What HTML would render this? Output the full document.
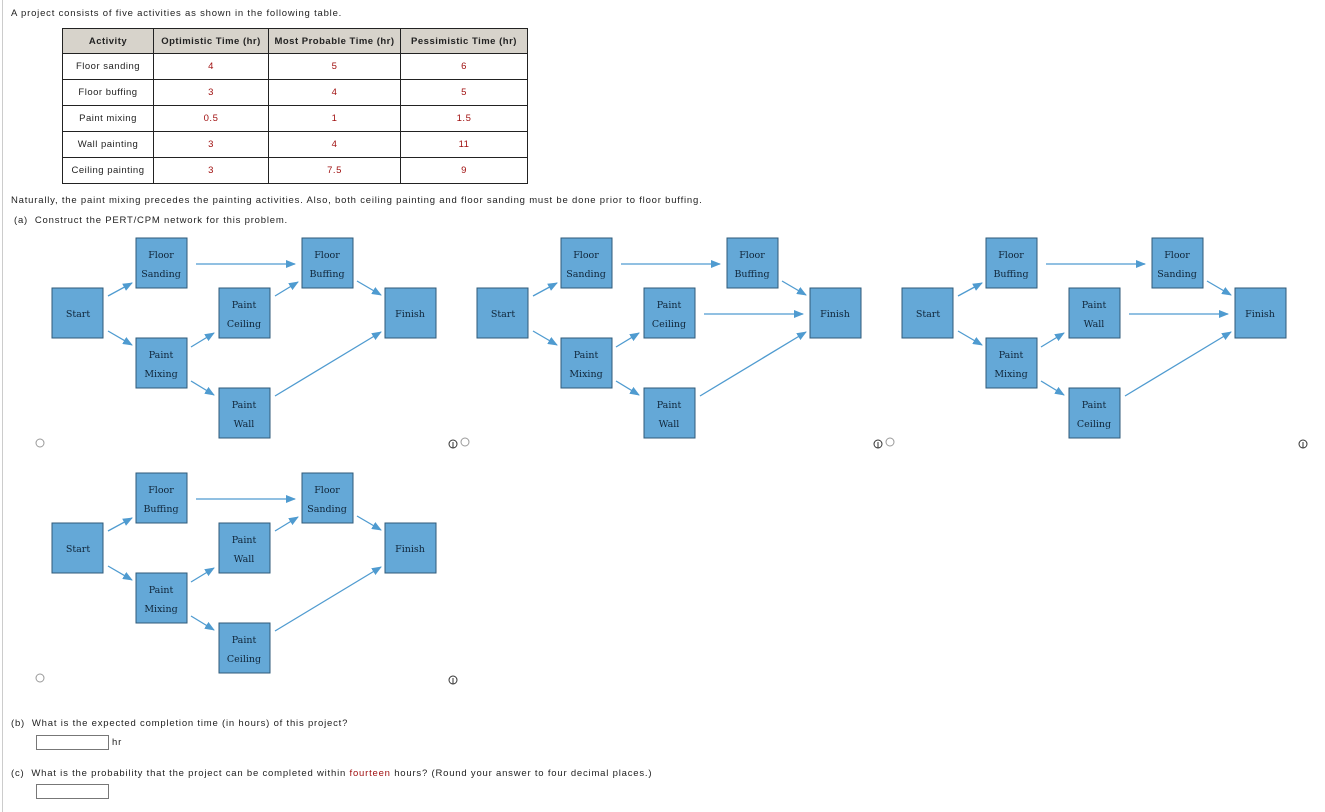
<!DOCTYPE html>
<html><head><meta charset="utf-8"><style>
body{margin:0;width:1325px;height:812px;background:#fff;position:relative;overflow:hidden;font-family:"Liberation Sans","DejaVu Sans",sans-serif;font-size:9.5px;color:#222;letter-spacing:.8px}
.t{position:absolute;white-space:nowrap}
table{position:absolute;left:62px;top:28px;border-collapse:collapse;letter-spacing:.5px}
td,th{border:1px solid #222;height:25px;padding:0;text-align:center;font-size:9.5px}
th{background:#d7d3cb;font-weight:bold;height:24px}
td.r{color:#a01010}
.in{position:absolute;width:71px;height:13px;border:1px solid #777;background:#fff}
svg{position:absolute;left:0;top:0;letter-spacing:0}
</style></head><body>
<div style="position:absolute;left:2px;top:0;width:1px;height:812px;background:#ccc"></div>
<div class="t" style="left:11px;top:8px">A project consists of five activities as shown in the following table.</div>
<table>
<tr><th style="width:90px">Activity</th><th style="width:114px">Optimistic Time (hr)</th><th style="width:131px">Most Probable Time (hr)</th><th style="width:126px">Pessimistic Time (hr)</th></tr>
<tr><td>Floor sanding</td><td class="r">4</td><td class="r">5</td><td class="r">6</td></tr>
<tr><td>Floor buffing</td><td class="r">3</td><td class="r">4</td><td class="r">5</td></tr>
<tr><td>Paint mixing</td><td class="r">0.5</td><td class="r">1</td><td class="r">1.5</td></tr>
<tr><td>Wall painting</td><td class="r">3</td><td class="r">4</td><td class="r">11</td></tr>
<tr><td>Ceiling painting</td><td class="r">3</td><td class="r">7.5</td><td class="r">9</td></tr>
</table>
<div class="t" style="left:11px;top:195px">Naturally, the paint mixing precedes the painting activities. Also, both ceiling painting and floor sanding must be done prior to floor buffing.</div>
<div class="t" style="left:14px;top:215px">(a)&nbsp; Construct the PERT/CPM network for this problem.</div>

<svg width="1325" height="812" viewBox="0 0 1325 812">
<defs><marker id="ah" markerWidth="10" markerHeight="8" refX="9" refY="4" orient="auto" markerUnits="userSpaceOnUse"><path d="M0,0 L10,4 L0,8 z" fill="#4f9bd0"/></marker>
<style>.b{fill:#64a8d7;stroke:#2f5a78;stroke-width:1}.l{font-family:"DejaVu Serif","Liberation Serif",serif;font-size:9.5px;fill:#10263a;text-anchor:middle}.a{stroke:#4f9bd0;stroke-width:1.3;marker-end:url(#ah)}</style></defs>

<g>
<rect class="b" x="52" y="288" width="51" height="50"/><text class="l" x="78" y="317">Start</text>
<rect class="b" x="136" y="238" width="51" height="50"/><text class="l" x="161" y="258">Floor</text><text class="l" x="161" y="277">Sanding</text>
<rect class="b" x="136" y="338" width="51" height="50"/><text class="l" x="161" y="358">Paint</text><text class="l" x="161" y="377">Mixing</text>
<rect class="b" x="219" y="288" width="51" height="50"/><text class="l" x="244" y="308">Paint</text><text class="l" x="244" y="327">Ceiling</text>
<rect class="b" x="219" y="388" width="51" height="50"/><text class="l" x="244" y="408">Paint</text><text class="l" x="244" y="427">Wall</text>
<rect class="b" x="302" y="238" width="51" height="50"/><text class="l" x="327" y="258">Floor</text><text class="l" x="327" y="277">Buffing</text>
<rect class="b" x="385" y="288" width="51" height="50"/><text class="l" x="410" y="317">Finish</text>
<line class="a" x1="108" y1="296" x2="132" y2="283"/><line class="a" x1="108" y1="331" x2="132" y2="345"/>
<line class="a" x1="196" y1="264" x2="295" y2="264"/><line class="a" x1="275" y1="296" x2="298" y2="282"/>
<line class="a" x1="357" y1="281" x2="381" y2="295"/><line class="a" x1="191" y1="347" x2="214" y2="333"/>
<line class="a" x1="191" y1="381" x2="214" y2="395"/><line class="a" x1="275" y1="396" x2="381" y2="332"/>
</g>
<g transform="translate(425,0)">
<rect class="b" x="52" y="288" width="51" height="50"/><text class="l" x="78" y="317">Start</text>
<rect class="b" x="136" y="238" width="51" height="50"/><text class="l" x="161" y="258">Floor</text><text class="l" x="161" y="277">Sanding</text>
<rect class="b" x="136" y="338" width="51" height="50"/><text class="l" x="161" y="358">Paint</text><text class="l" x="161" y="377">Mixing</text>
<rect class="b" x="219" y="288" width="51" height="50"/><text class="l" x="244" y="308">Paint</text><text class="l" x="244" y="327">Ceiling</text>
<rect class="b" x="219" y="388" width="51" height="50"/><text class="l" x="244" y="408">Paint</text><text class="l" x="244" y="427">Wall</text>
<rect class="b" x="302" y="238" width="51" height="50"/><text class="l" x="327" y="258">Floor</text><text class="l" x="327" y="277">Buffing</text>
<rect class="b" x="385" y="288" width="51" height="50"/><text class="l" x="410" y="317">Finish</text>
<line class="a" x1="108" y1="296" x2="132" y2="283"/><line class="a" x1="108" y1="331" x2="132" y2="345"/>
<line class="a" x1="196" y1="264" x2="295" y2="264"/><line class="a" x1="279" y1="314" x2="378" y2="314"/>
<line class="a" x1="357" y1="281" x2="381" y2="295"/><line class="a" x1="191" y1="347" x2="214" y2="333"/>
<line class="a" x1="191" y1="381" x2="214" y2="395"/><line class="a" x1="275" y1="396" x2="381" y2="332"/>
</g>
<g transform="translate(850,0)">
<rect class="b" x="52" y="288" width="51" height="50"/><text class="l" x="78" y="317">Start</text>
<rect class="b" x="136" y="238" width="51" height="50"/><text class="l" x="161" y="258">Floor</text><text class="l" x="161" y="277">Buffing</text>
<rect class="b" x="136" y="338" width="51" height="50"/><text class="l" x="161" y="358">Paint</text><text class="l" x="161" y="377">Mixing</text>
<rect class="b" x="219" y="288" width="51" height="50"/><text class="l" x="244" y="308">Paint</text><text class="l" x="244" y="327">Wall</text>
<rect class="b" x="219" y="388" width="51" height="50"/><text class="l" x="244" y="408">Paint</text><text class="l" x="244" y="427">Ceiling</text>
<rect class="b" x="302" y="238" width="51" height="50"/><text class="l" x="327" y="258">Floor</text><text class="l" x="327" y="277">Sanding</text>
<rect class="b" x="385" y="288" width="51" height="50"/><text class="l" x="410" y="317">Finish</text>
<line class="a" x1="108" y1="296" x2="132" y2="283"/><line class="a" x1="108" y1="331" x2="132" y2="345"/>
<line class="a" x1="196" y1="264" x2="295" y2="264"/><line class="a" x1="279" y1="314" x2="378" y2="314"/>
<line class="a" x1="357" y1="281" x2="381" y2="295"/><line class="a" x1="191" y1="347" x2="214" y2="333"/>
<line class="a" x1="191" y1="381" x2="214" y2="395"/><line class="a" x1="275" y1="396" x2="381" y2="332"/>
</g>
<g transform="translate(0,235)">
<rect class="b" x="52" y="288" width="51" height="50"/><text class="l" x="78" y="317">Start</text>
<rect class="b" x="136" y="238" width="51" height="50"/><text class="l" x="161" y="258">Floor</text><text class="l" x="161" y="277">Buffing</text>
<rect class="b" x="136" y="338" width="51" height="50"/><text class="l" x="161" y="358">Paint</text><text class="l" x="161" y="377">Mixing</text>
<rect class="b" x="219" y="288" width="51" height="50"/><text class="l" x="244" y="308">Paint</text><text class="l" x="244" y="327">Wall</text>
<rect class="b" x="219" y="388" width="51" height="50"/><text class="l" x="244" y="408">Paint</text><text class="l" x="244" y="427">Ceiling</text>
<rect class="b" x="302" y="238" width="51" height="50"/><text class="l" x="327" y="258">Floor</text><text class="l" x="327" y="277">Sanding</text>
<rect class="b" x="385" y="288" width="51" height="50"/><text class="l" x="410" y="317">Finish</text>
<line class="a" x1="108" y1="296" x2="132" y2="283"/><line class="a" x1="108" y1="331" x2="132" y2="345"/>
<line class="a" x1="196" y1="264" x2="295" y2="264"/><line class="a" x1="275" y1="296" x2="298" y2="282"/>
<line class="a" x1="357" y1="281" x2="381" y2="295"/><line class="a" x1="191" y1="347" x2="214" y2="333"/>
<line class="a" x1="191" y1="381" x2="214" y2="395"/><line class="a" x1="275" y1="396" x2="381" y2="332"/>
</g>
<g fill="#fff" stroke="#999" stroke-width="1">
<circle cx="40" cy="443" r="4"/><circle cx="465" cy="442" r="4"/><circle cx="890" cy="442" r="4"/><circle cx="40" cy="678" r="4"/>
</g>
<g fill="none" stroke="#333" stroke-width="1">
<circle cx="453" cy="444" r="4"/><line x1="453" y1="442" x2="453" y2="448"/>
<circle cx="878" cy="444" r="4"/><line x1="878" y1="442" x2="878" y2="448"/>
<circle cx="1303" cy="444" r="4"/><line x1="1303" y1="442" x2="1303" y2="448"/>
<circle cx="453" cy="680" r="4"/><line x1="453" y1="678" x2="453" y2="684"/>
</g>
</svg>

<div class="t" style="left:11px;top:718px">(b)&nbsp; What is the expected completion time (in hours) of this project?</div>
<div class="in" style="left:36px;top:735px"></div>
<div class="t" style="left:112px;top:737px">hr</div>
<div class="t" style="left:11px;top:768px">(c)&nbsp; What is the probability that the project can be completed within <span style="color:#a01010">fourteen</span> hours? (Round your answer to four decimal places.)</div>
<div class="in" style="left:36px;top:784px"></div>
</body></html>
